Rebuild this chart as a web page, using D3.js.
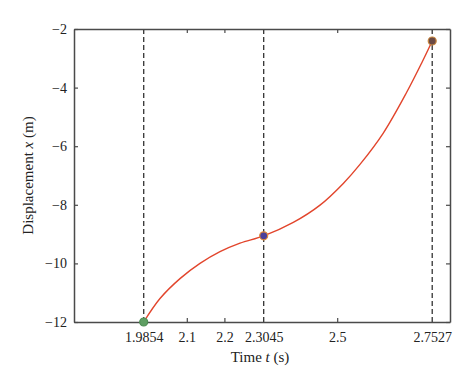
<!DOCTYPE html>
<html>
<head>
<meta charset="utf-8">
<script src="https://cdn.jsdelivr.net/npm/d3@7"></script>
<style>
  body { margin: 0; background: #fff; }
  svg { display: block; }
  .tick text { font-family: "Liberation Serif", "DejaVu Serif", serif; font-size: 14px; fill: #222; }
  .label { font-family: "Liberation Serif", "DejaVu Serif", serif; font-size: 15px; fill: #222; }
</style>
</head>
<body>
<div id="chart"></div>
<script>
// curve values
var timeValues = [1.9854, 2.0287, 2.0819, 2.1351, 2.1883, 2.2415, 2.3045, 2.3832, 2.4543, 2.5162, 2.5606, 2.6226, 2.6848, 2.7247, 2.7527];
var dispValues = [-12.0, -11.2, -10.52, -10.0, -9.60, -9.31, -9.06, -8.60, -8.01, -7.27, -6.62, -5.55, -4.16, -3.16, -2.41];

// marked instants
var markTimes = [1.9854, 2.3045, 2.7527];
var markDisp = [-12.0, -9.06, -2.41];
var markFill = ["#5f9e63", "#4a3f9a", "#6b4a44"];
var markStroke = ["#4f8f55", "#e0893a", "#c9873f"];

var xTicks = [1.9854, 2.1, 2.2, 2.3045, 2.5, 2.7527];
var yTicks = [-2, -4, -6, -8, -10, -12];

var width = 474, height = 387;
var margin = {top: 29, right: 24, bottom: 65, left: 74};
var w = width - margin.left - margin.right;
var h = height - margin.top - margin.bottom;

var svg = d3.select("#chart").append("svg")
  .attr("width", width)
  .attr("height", height);

var g = svg.append("g")
  .attr("transform", "translate(" + margin.left + "," + margin.top + ")");

var x = d3.scaleLinear().domain([1.8, 2.8]).range([0, w]);
var y = d3.scaleLinear().domain([-12, -2]).range([h, 0]);

var axisColor = "#4a4a4a";

// dashed guides
g.selectAll(".guide")
  .data(markTimes)
  .enter().append("line")
  .attr("class", "guide")
  .attr("x1", function(d){ return x(d); })
  .attr("x2", function(d){ return x(d); })
  .attr("y1", 0)
  .attr("y2", h)
  .attr("stroke", "#333")
  .attr("stroke-width", 1.3)
  .attr("stroke-dasharray", "5,3");

// axes (ticks inward, mirrored on top/right)
var fmtX = function(d){ return String(d); };
var fmtY = function(d){ return d3.format("d")(d).replace("-", "\u2212"); };

var axBottom = g.append("g")
  .attr("transform", "translate(0," + h + ")")
  .call(d3.axisBottom(x).tickValues(xTicks).tickFormat(fmtX).tickSizeInner(-4).tickSizeOuter(0).tickPadding(10));
var axTop = g.append("g")
  .call(d3.axisTop(x).tickValues(xTicks).tickFormat("").tickSizeInner(-4).tickSizeOuter(0));
var axLeft = g.append("g")
  .call(d3.axisLeft(y).tickValues(yTicks).tickFormat(fmtY).tickSizeInner(-4).tickSizeOuter(0).tickPadding(7));
var axRight = g.append("g")
  .attr("transform", "translate(" + w + ",0)")
  .call(d3.axisRight(y).tickValues(yTicks).tickFormat("").tickSizeInner(-4).tickSizeOuter(0));

[axBottom, axTop, axLeft, axRight].forEach(function(a){
  a.select(".domain").attr("stroke", axisColor).attr("stroke-width", 1.5);
  a.selectAll(".tick line").attr("stroke", axisColor).attr("stroke-width", 1.2);
});
// dashed guides already mark these x ticks
axTop.selectAll(".tick line").filter(function(d){ return markTimes.indexOf(d) >= 0; }).remove();
axBottom.selectAll(".tick line").filter(function(d){ return markTimes.indexOf(d) >= 0; }).remove();

// curve
var line = d3.line()
  .x(function(d, i){ return x(timeValues[i]); })
  .y(function(d){ return y(d); })
  .curve(d3.curveCatmullRom.alpha(0.5));

g.append("path")
  .datum(dispValues)
  .attr("d", line)
  .attr("fill", "none")
  .attr("stroke", "#e2452c")
  .attr("stroke-width", 1.4);

// points
g.selectAll(".pt")
  .data(markTimes)
  .enter().append("circle")
  .attr("class", "pt")
  .attr("cx", function(d){ return x(d); })
  .attr("cy", function(d, i){ return y(markDisp[i]); })
  .attr("r", 4)
  .attr("fill", function(d, i){ return markFill[i]; })
  .attr("stroke", function(d, i){ return markStroke[i]; })
  .attr("stroke-width", 1.2);

// labels
var xl = svg.append("text")
  .attr("class", "label")
  .attr("x", 260)
  .attr("y", 362)
  .attr("text-anchor", "middle");
xl.append("tspan").text("Time ");
xl.append("tspan").attr("font-style", "italic").text("t");
xl.append("tspan").text(" (s)");

var yl = svg.append("text")
  .attr("class", "label")
  .attr("transform", "translate(33," + (margin.top + h / 2) + ") rotate(-90)")
  .attr("text-anchor", "middle");
yl.append("tspan").text("Displacement ");
yl.append("tspan").attr("font-style", "italic").text("x");
yl.append("tspan").text(" (m)");
</script>
</body>
</html>
